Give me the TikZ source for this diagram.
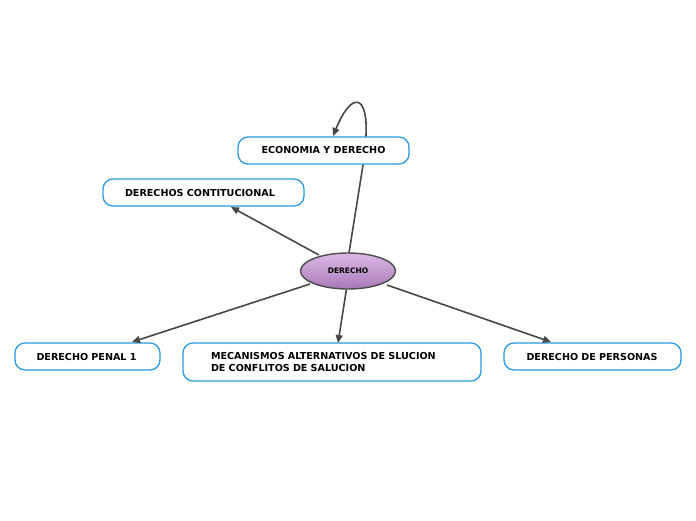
\documentclass[tikz,border=0pt]{standalone}
\usepackage{fontspec}
\setmainfont{DejaVu Sans}
\usetikzlibrary{arrows.meta,shapes.geometric}
\definecolor{bblue}{HTML}{2A9AE0}
\definecolor{ptop}{HTML}{DDB8E4}
\definecolor{pbot}{HTML}{A87AB8}
\begin{document}
\begin{tikzpicture}[x=1pt,y=-1pt,
  box/.style={draw=bblue, line width=1.3pt, rounded corners=10pt, fill=white, font=\bfseries\fontsize{9.6}{11.5}\selectfont},
  link/.style={draw=black!72, line width=1.6pt, -{Triangle[length=8pt,width=7pt]}}]
\useasboundingbox (0,0) rectangle (696,520);
\coordinate (lt) at (366,135);
\draw[link] (349,253) -- (363,165) -- (lt) .. controls (368,95) and (352,90) .. (333,136);
\node[box, minimum width=171pt, minimum height=27pt] (eco) at (323.5,150.5) {ECONOMIA Y DERECHO};
\node[box, minimum width=201pt, minimum height=27pt, text width=185pt, align=left] (con) at (203.5,192.5) {\hspace*{14pt}DERECHOS CONTITUCIONAL};
\node[box, minimum width=145pt, minimum height=27pt, text width=130pt, align=left] (pen) at (87.5,356.5) {\hspace*{14pt}DERECHO PENAL 1};
\node[box, minimum width=298pt, minimum height=38pt, text width=270pt, align=left] (mec) at (332,362) {\hspace*{14pt}MECANISMOS ALTERNATIVOS DE SLUCION\\\hspace*{14pt}DE CONFLITOS DE SALUCION};
\node[box, minimum width=177pt, minimum height=27pt, text width=160pt, align=left] (per) at (592.5,356.5) {\hspace*{14pt}DERECHO DE PERSONAS};
\node[ellipse, draw=black!70, line width=1.4pt, minimum width=95pt, minimum height=36pt, inner sep=0pt,
  top color=ptop, bottom color=pbot,
  font=\bfseries\fontsize{7.5}{8}\selectfont] (d) at (348,271) {DERECHO};
\coordinate (s1) at (319,255);
\coordinate (s2) at (310,284);
\coordinate (s3) at (387,285);
\draw[link] (s1) -- (231,207);
\draw[link] (s2) -- (132,342);
\draw[link] (d.265) -- (338,343);
\draw[link] (s3) -- (551,342);
\end{tikzpicture}
\end{document}
